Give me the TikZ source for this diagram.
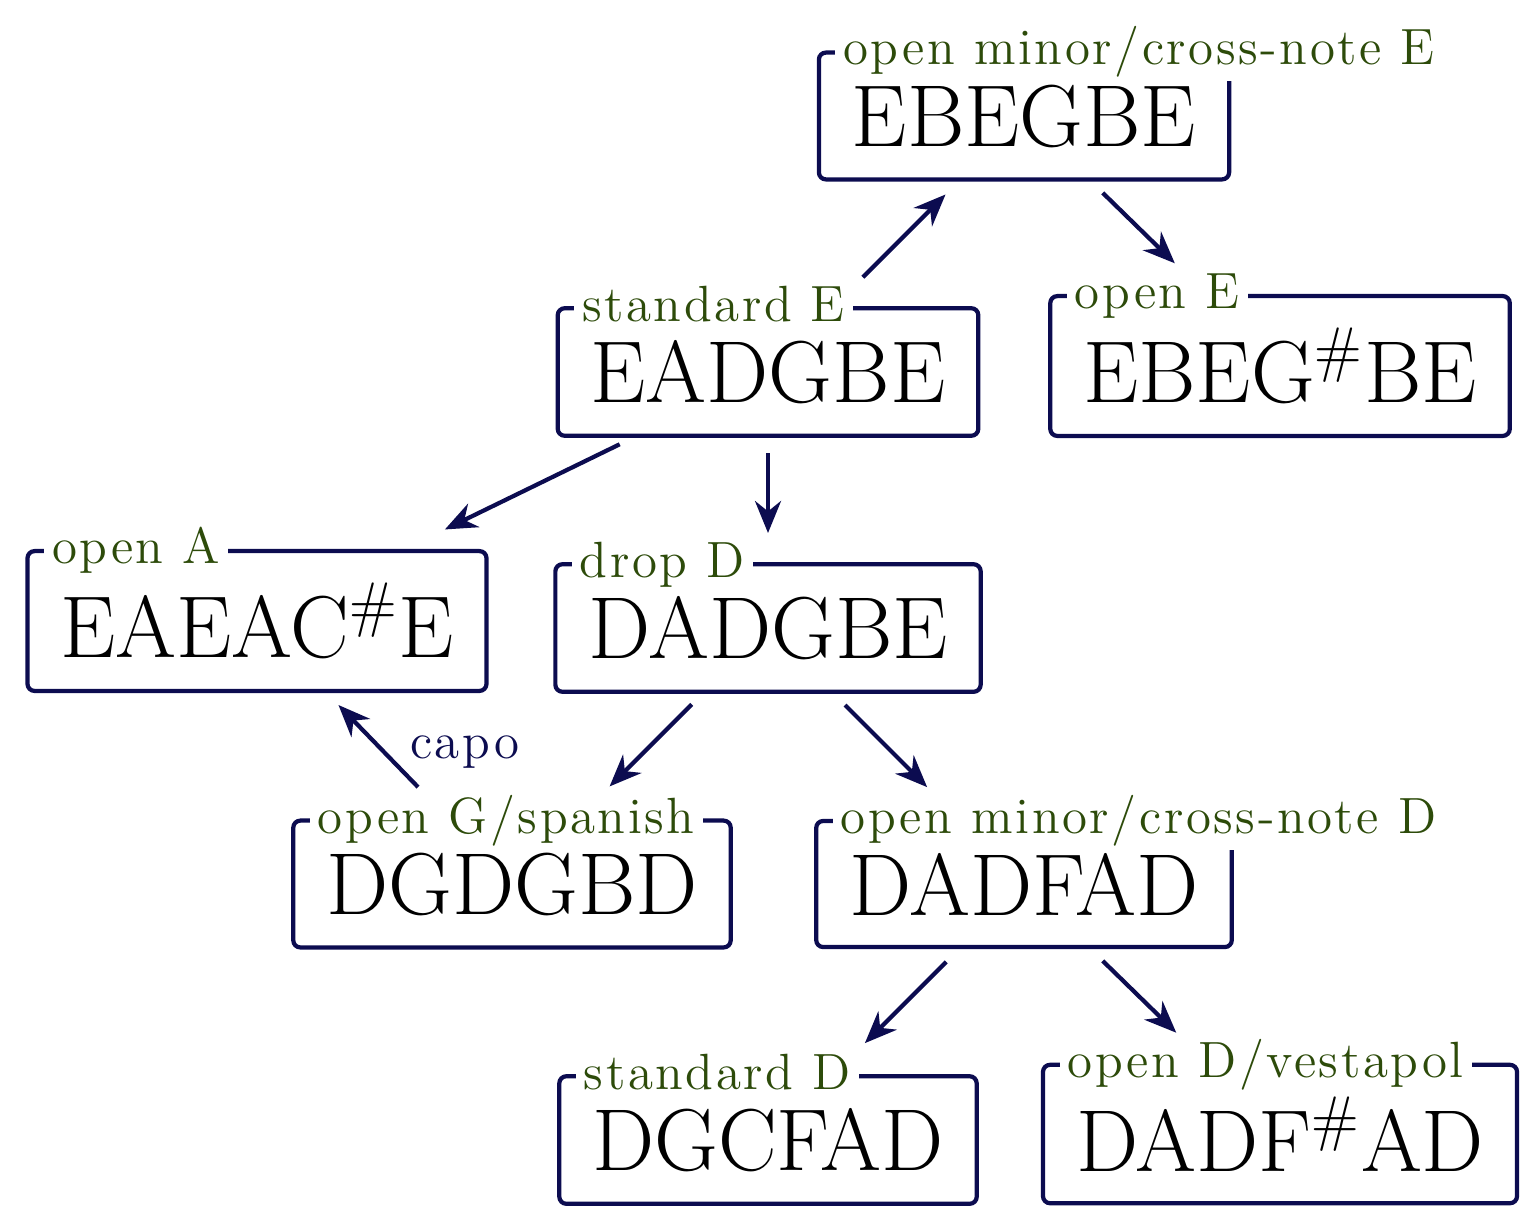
\documentclass[tikz,border=0pt]{standalone}
\usepackage{fontspec}
\usepackage{amsmath}
\usepackage{tikz}
\usetikzlibrary{arrows.meta}
\newfontfamily\tagfont{lmroman12-regular.otf}[LetterSpace=5]
\definecolor{boxblue}{RGB}{12,12,80}
\definecolor{tagolive}{RGB}{45,75,10}
\tikzset{
  tuning/.style={draw=boxblue, line width=1.2pt, rounded corners=2pt, inner xsep=0.33cm,
    inner ysep=0.32cm, font=\fontsize{25}{30}\selectfont},
  tag/.style={fill=white, inner xsep=0.08cm, inner ysep=1pt, anchor=base west, text=tagolive,
    font=\tagfont\fontsize{14.5}{17}\selectfont},
  move/.style={-{Stealth[length=3.2mm, width=2.6mm]}, draw=boxblue, line width=1.2pt}
}
\begin{document}
\begin{tikzpicture}
    \useasboundingbox (0,0) rectangle (15.37,-12.27);
    % tunings
    \node (ebegbe) at (10.24,-1.16) [tuning] {EBEGBE};
    \node (eadgbe) at (7.68,-3.72) [tuning] {EADGBE};
    \node (openE) at (12.80,-3.66) [tuning] {EBEG$^{\#}$BE};
    \node (openA) at (2.57,-6.21) [tuning] {EAEAC$^{\#}$E};
    \node (dadgbe) at (7.68,-6.28) [tuning] {DADGBE};
    \node (dgdgbd) at (5.12,-8.84) [tuning] {DGDGBD};
    \node (dadfad) at (10.24,-8.84) [tuning] {DADFAD};
    \node (dgcfad) at (7.68,-11.40) [tuning] {DGCFAD};
    \node (openD) at (12.80,-11.34) [tuning] {DADF$^{\#}$AD};

    % names on the top edges
    \node (t-ebegbe) at ([shift={(0.18,-0.14)}]ebegbe.north west) [tag] {open minor/cross-note E};
    \node (t-eadgbe) at ([shift={(0.18,-0.15)}]eadgbe.north west) [tag] {standard E};
    \node (t-openE) at ([shift={(0.18,-0.15)}]openE.north west) [tag] {open E};
    \node (t-openA) at ([shift={(0.18,-0.15)}]openA.north west) [tag] {open A};
    \node (t-dadgbe) at ([shift={(0.18,-0.15)}]dadgbe.north west) [tag] {drop D};
    \node (t-dgdgbd) at ([shift={(0.18,-0.15)}]dgdgbd.north west) [tag] {open G/spanish};
    \node (t-dadfad) at ([shift={(0.18,-0.15)}]dadfad.north west) [tag] {open minor/cross-note D};
    \node (t-dgcfad) at ([shift={(0.18,-0.15)}]dgcfad.north west) [tag] {standard D};
    \node (t-openD) at ([shift={(0.18,-0.15)}]openD.north west) [tag] {open D/vestapol};

    \draw [move, shorten <=1.34cm, shorten >=1.11cm] (eadgbe.center) -- (ebegbe.center);
    \draw [move, shorten <=1.10cm, shorten >=1.47cm] (ebegbe.center) -- (openE.center);
    \draw [move, shorten <=1.65cm, shorten >=2.09cm] (eadgbe.center) -- (openA.center);
    \draw [move, shorten <=0.81cm, shorten >=0.95cm] (eadgbe.center) -- (dadgbe.center);
    \draw [move, shorten <=1.08cm, shorten >=1.38cm] (dadgbe.center) -- (dgdgbd.center);
    \draw [move, shorten <=1.09cm, shorten >=1.37cm] (dadgbe.center) -- (dadfad.center);
    \draw [move, shorten <=1.35cm, shorten >=1.17cm] (dgdgbd.center) -- (openA.center)
        node [midway, right=0.12cm, text=boxblue, font=\tagfont\fontsize{14.5}{17}\selectfont] {capo};
    \draw [move, shorten <=1.10cm, shorten >=1.37cm] (dadfad.center) -- (dgcfad.center);
    \draw [move, shorten <=1.10cm, shorten >=1.45cm] (dadfad.center) -- (openD.center);
\end{tikzpicture}
\end{document}
